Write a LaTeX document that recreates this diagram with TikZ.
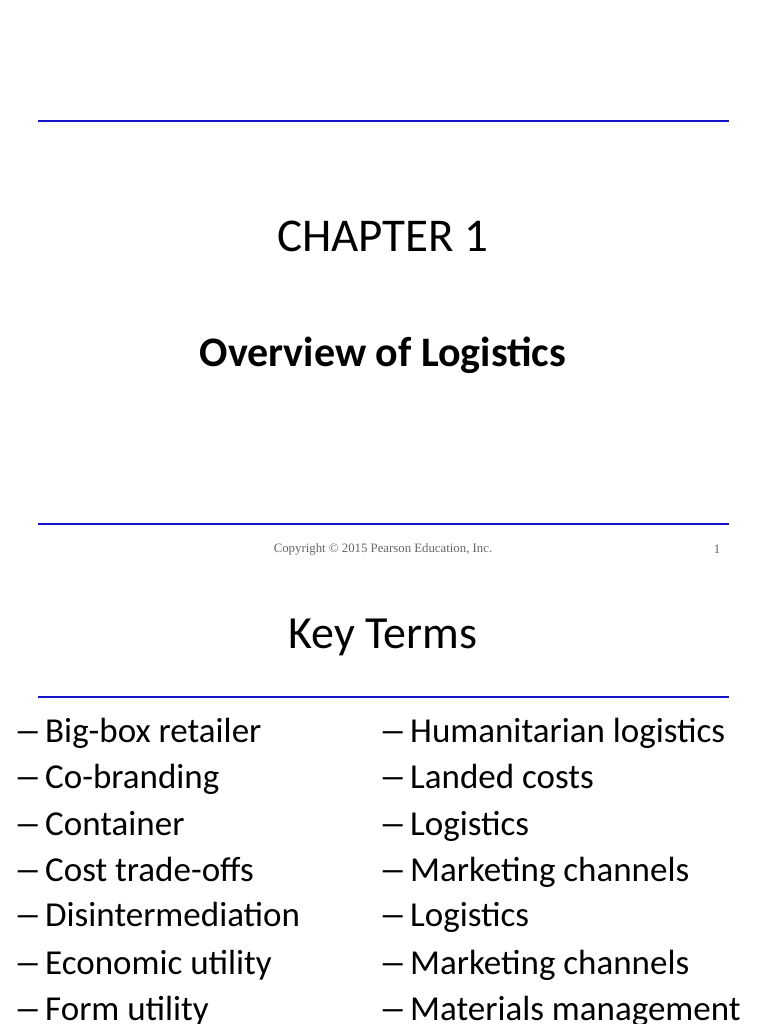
\documentclass[tikz,border=0pt]{standalone}
\usepackage{fontspec}
\setmainfont{Carlito}
\newfontfamily\timesf{Liberation Serif}
\begin{document}
\begin{tikzpicture}[x=1pt,y=1pt,
  rule/.style={draw={rgb,255:red,20;green,20;blue,200},line width=2pt},
  item/.style={anchor=base west,inner sep=0pt,font=\fontsize{35}{36}\selectfont},
  dsh/.style={anchor=base east,inner sep=0pt,font=\fontsize{35}{36}\selectfont}]
\clip (0,0) rectangle (768,-1024);
\fill[white] (0,0) rectangle (768,-1024);
\coordinate (a1) at (38,-121); \coordinate (b1) at (729,-121);
\coordinate (a2) at (38,-524); \coordinate (b2) at (729,-524);
\coordinate (a3) at (38,-697); \coordinate (b3) at (729,-697);
\draw[rule] (a1) -- (b1);
\draw[rule] (a2) -- (b2);
\draw[rule] (a3) -- (b3);
\node (ch) at (383,-236) {\fontsize{47}{50}\selectfont CHAPTER 1};
\node (ov) at (383,-355) {\fontsize{42}{44}\selectfont\bfseries Overview of Logistics};
\node (cp) at (383,-549) {\timesf\fontsize{12.8}{14}\selectfont\color{gray!80!black} Copyright © 2015 Pearson Education, Inc.};
\node (pg) at (717,-549) {\timesf\fontsize{12.8}{14}\selectfont\color{gray!80!black} 1};
\node (kt) at (383,-637) {\fontsize{46}{48}\selectfont Key Terms};
\foreach \y/\l/\r [count=\i] in {
 742/Big-box retailer/Humanitarian logistics,
 788/Co-branding/Landed costs,
 835/Container/Logistics,
 881/Cost trade-offs/Marketing channels,
 926/Disintermediation/Logistics,
 974/Economic utility/Marketing channels,
 1020/Form utility/Materials management}{
 \node[dsh] (ld\i) at (42,-\y) {\scalebox{1.6}[1]{–}};
 \node[item] (l\i) at (45,-\y) {\l};
 \node[dsh] (rd\i) at (407,-\y) {\scalebox{1.6}[1]{–}};
 \node[item] (r\i) at (410,-\y) {\r};
}
\end{tikzpicture}
\end{document}
